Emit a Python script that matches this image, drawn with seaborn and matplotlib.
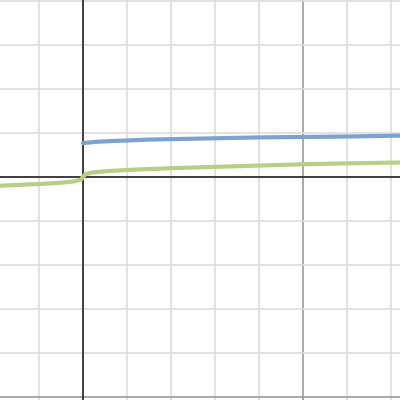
import matplotlib
matplotlib.use("Agg")
import matplotlib.pyplot as plt
import seaborn as sns
import numpy as np

blue_x = [0.0, 0.3, 0.7, 1.0, 1.5, 2.0, 3.0, 4.0, 5.0, 6.0, 7.2]
blue_y = [0.77, 0.80, 0.82, 0.83, 0.85, 0.86, 0.88, 0.90, 0.91, 0.92, 0.94]
green_x = [-1.9, -1.5, -1.0, -0.5, -0.2, -0.05, 0.0, 0.05, 0.2, 0.5, 1.0, 1.5, 2.0, 3.0, 4.0, 5.0, 6.0, 7.2]
green_y = [-0.20, -0.18, -0.16, -0.13, -0.10, -0.06, 0.0, 0.06, 0.10, 0.13, 0.16, 0.18, 0.20, 0.23, 0.26, 0.29, 0.31, 0.33]

sns.set_style("white")
fig = plt.figure(figsize=(4, 4), dpi=100)
ax = fig.add_axes([0, 0, 1, 1])
x0, x1 = -83/44, 317/44
y0, y1 = -223/44, 177/44
for v in range(-1, 8):
    ax.axvline(v, color="#999999" if v == 5 else "#dddddd", lw=1.2, zorder=0)
for v in range(-5, 5):
    ax.axhline(v, color="#999999" if v == -5 else "#dddddd", lw=1.2, zorder=0)
ax.axvline(0, color="#222222", lw=1.2, zorder=1)
ax.axhline(0, color="#222222", lw=1.2, zorder=1)
sns.lineplot(x=green_x, y=green_y, ax=ax, color="#b6cf87", lw=3, sort=False)
sns.lineplot(x=blue_x, y=blue_y, ax=ax, color="#7ba2d0", lw=3, sort=False)
ax.set_xlim(x0, x1)
ax.set_ylim(y0, y1)
ax.set_xticks([]); ax.set_yticks([])
for s in ax.spines.values():
    s.set_visible(False)
fig.savefig("out.png", dpi=100)
